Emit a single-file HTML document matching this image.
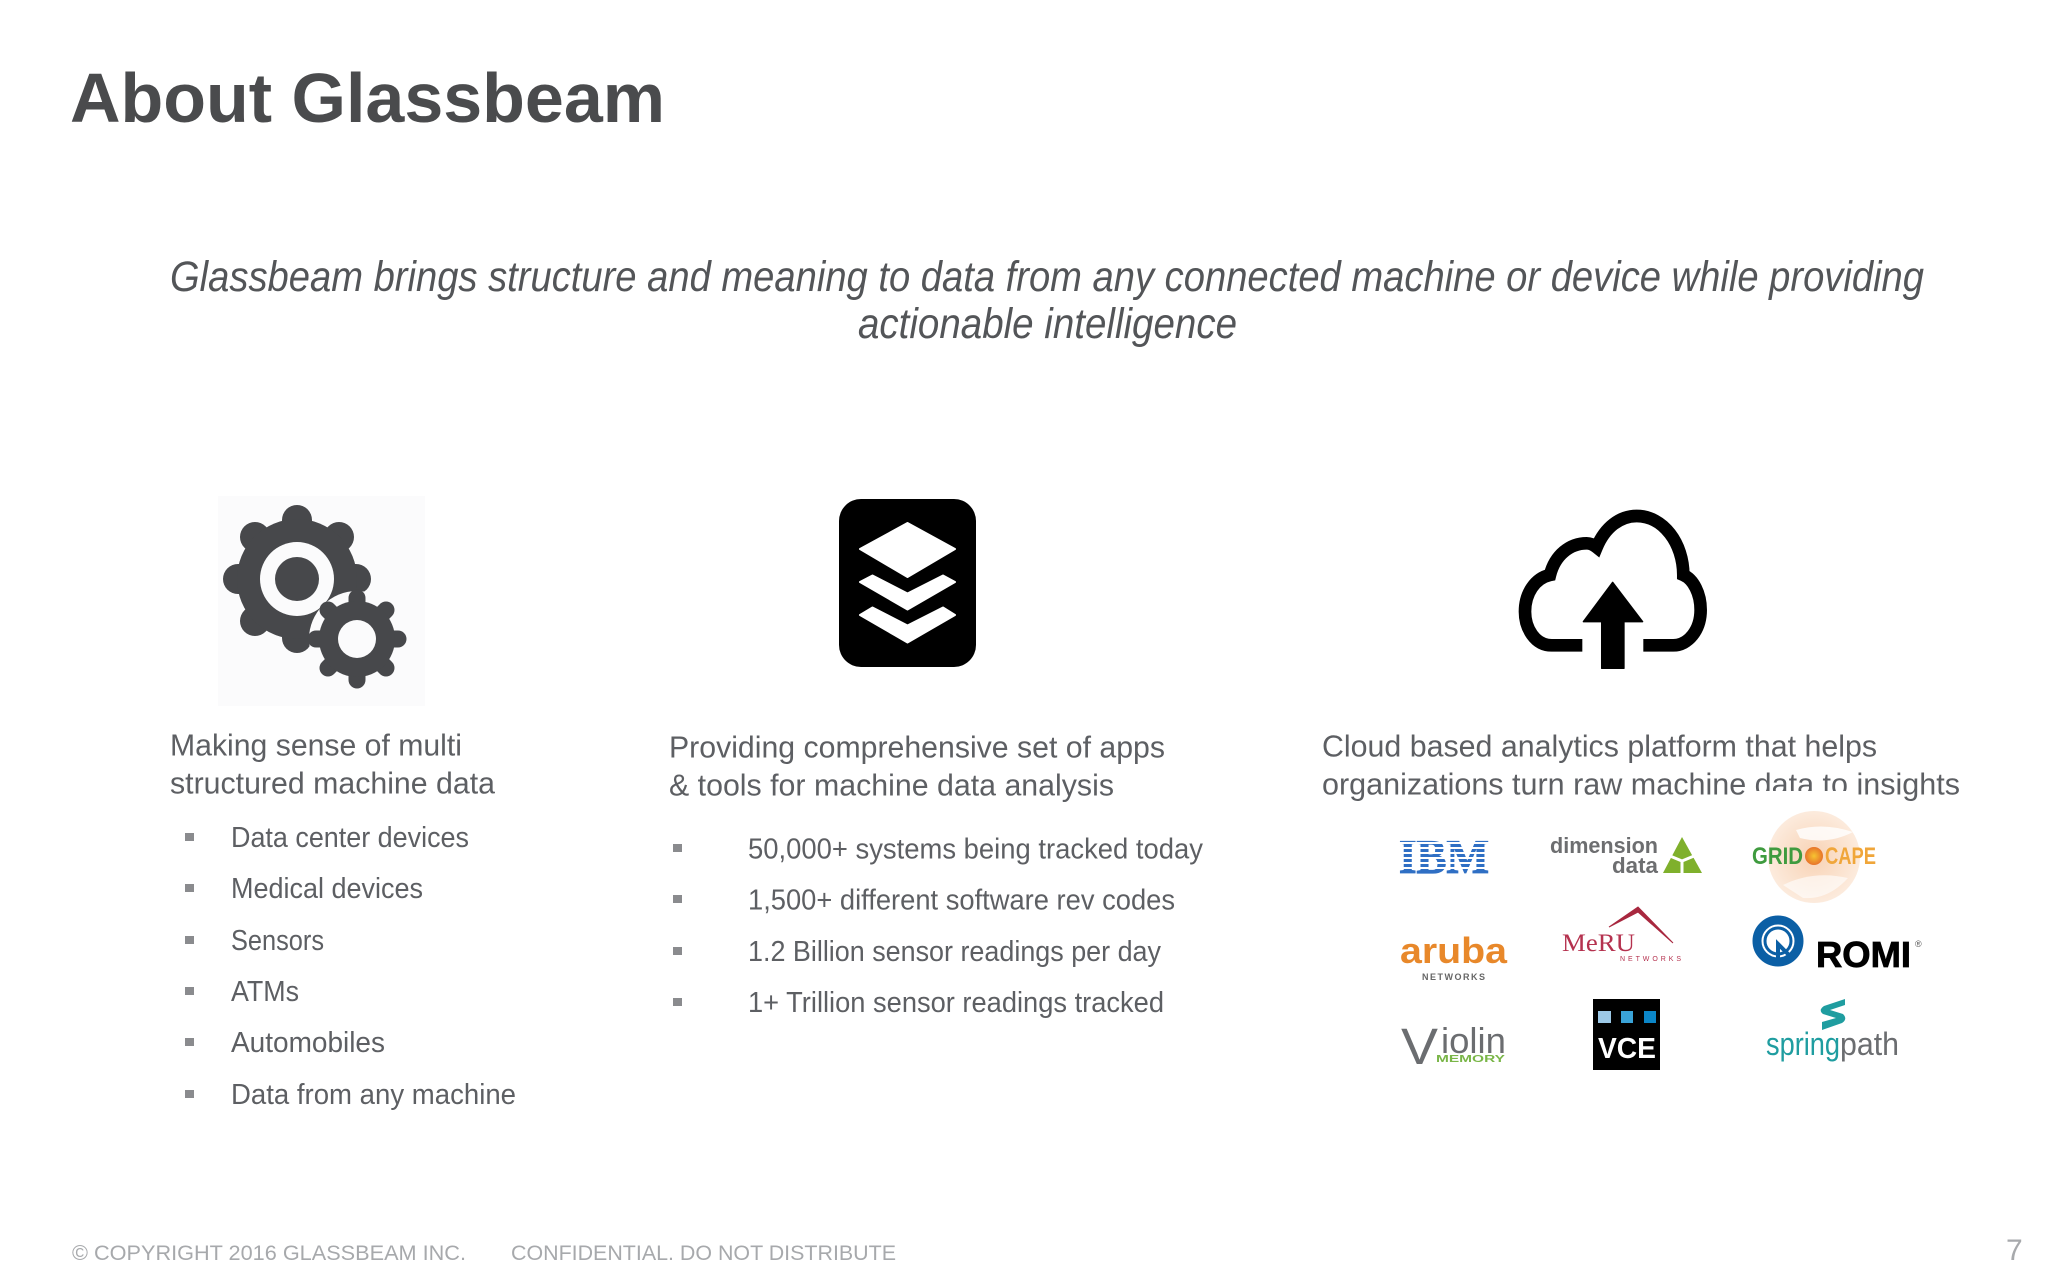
<!DOCTYPE html>
<html><head><meta charset="utf-8"><title>About Glassbeam</title>
<style>
html,body{margin:0;padding:0;background:#fff;width:2048px;height:1280px;overflow:hidden}
svg{display:block}
text{font-family:"Liberation Sans",sans-serif}
.h{font-size:31px;fill:#5d5f63}
.b{font-size:29px;fill:#5d5f63}
.s{font-size:43px;font-style:italic;fill:#535558}
.f{font-size:21px;fill:#a7a9ac}
</style></head><body>
<svg width="2048" height="1280" viewBox="0 0 2048 1280" xmlns="http://www.w3.org/2000/svg">
<defs>
<radialGradient id="gs" cx="50%" cy="50%" r="50%"><stop offset="0" stop-color="#f8d2b4"/><stop offset="1" stop-color="#fcebdd"/></radialGradient>
<radialGradient id="sun" cx="50%" cy="50%" r="50%"><stop offset="0" stop-color="#f6c431"/><stop offset="1" stop-color="#e8742a"/></radialGradient>
</defs>
<rect width="2048" height="1280" fill="#fff"/>
<text x="70" y="122" font-size="70" font-weight="bold" fill="#4a4b4d" textLength="595" lengthAdjust="spacingAndGlyphs">About Glassbeam</text>
<text class="s" x="170" y="291" textLength="1754" lengthAdjust="spacingAndGlyphs">Glassbeam brings structure and meaning to data from any connected machine or device while providing</text>
<text class="s" x="858" y="338" textLength="379" lengthAdjust="spacingAndGlyphs">actionable intelligence</text>

<!-- gears -->
<rect x="218" y="496" width="207" height="210" fill="#fbfbfc"/>
<g fill="none" stroke="#47484b" stroke-linecap="round">
 <g transform="translate(297,579)" stroke-width="30">
  <line x1="0" y1="0" x2="59" y2="0"/><line x1="0" y1="0" x2="-59" y2="0"/><line x1="0" y1="0" x2="0" y2="-59"/><line x1="0" y1="0" x2="0" y2="59"/>
  <line x1="0" y1="0" x2="42" y2="42"/><line x1="0" y1="0" x2="-42" y2="42"/><line x1="0" y1="0" x2="42" y2="-42"/><line x1="0" y1="0" x2="-42" y2="-42"/>
 </g>
</g>
<circle cx="297" cy="579" r="60" fill="#47484b"/>
<circle cx="297" cy="579" r="37" fill="#fbfbfc"/>
<circle cx="297" cy="579" r="22" fill="#47484b"/>
<circle cx="357" cy="639" r="48" fill="#fbfbfc"/>
<g fill="none" stroke="#47484b" stroke-linecap="round" stroke-width="17" transform="translate(357,639)">
 <line x1="0" y1="0" x2="41" y2="0"/><line x1="0" y1="0" x2="-41" y2="0"/><line x1="0" y1="0" x2="0" y2="-41"/><line x1="0" y1="0" x2="0" y2="41"/>
 <line x1="0" y1="0" x2="29" y2="29"/><line x1="0" y1="0" x2="-29" y2="29"/><line x1="0" y1="0" x2="29" y2="-29"/><line x1="0" y1="0" x2="-29" y2="-29"/>
</g>
<circle cx="357" cy="639" r="38" fill="#47484b"/>
<circle cx="357" cy="639" r="19" fill="#fbfbfc"/>

<text class="h" x="170" y="755.5" textLength="292" lengthAdjust="spacingAndGlyphs">Making sense of multi</text>
<text class="h" x="170" y="793.5" textLength="325" lengthAdjust="spacingAndGlyphs">structured machine data</text>
<g fill="#8a8b8e">
<rect x="185" y="833" width="9" height="8"/><rect x="185" y="884" width="9" height="8"/><rect x="185" y="936" width="9" height="8"/><rect x="185" y="987" width="9" height="8"/><rect x="185" y="1038" width="9" height="8"/><rect x="185" y="1090" width="9" height="8"/>
</g>
<text class="b" x="231" y="847" textLength="238" lengthAdjust="spacingAndGlyphs">Data center devices</text>
<text class="b" x="231" y="898" textLength="192" lengthAdjust="spacingAndGlyphs">Medical devices</text>
<text class="b" x="231" y="950" textLength="93" lengthAdjust="spacingAndGlyphs">Sensors</text>
<text class="b" x="231" y="1001" textLength="68" lengthAdjust="spacingAndGlyphs">ATMs</text>
<text class="b" x="231" y="1052" textLength="154" lengthAdjust="spacingAndGlyphs">Automobiles</text>
<text class="b" x="231" y="1104" textLength="285" lengthAdjust="spacingAndGlyphs">Data from any machine</text>

<!-- stack icon -->
<rect x="839" y="499" width="137" height="168" rx="22" fill="#000"/>
<g fill="#fff" stroke="#fff" stroke-width="2" stroke-linejoin="round" transform="translate(-1,0)">
<polygon points="908.5,523 956,549 908.5,577 861,549"/>
<polygon points="861,582 873.5,575.5 908.5,593.5 944,575.5 956,582 908.5,609.5"/>
<polygon points="861,615 873.5,607.5 908.5,625.5 944,607.5 956,615 908.5,642.5"/>
</g>

<!-- cloud icon -->
<g transform="translate(1480,490) scale(.3333)">
<path d="M307 466 H215 C165 466 135 415 135 365 C135 310 165 265 210 255 C225 195 270 160 320 160 Q335 160 350 172 C375 112 420 78 470 78 C550 78 610 160 610 255 C640 268 662 310 662 360 C662 420 625 466 580 466 H490" fill="none" stroke="#000" stroke-width="38"/>
<polygon points="398,277 488,395 432,395 432,535 365,535 365,395 310,395" fill="#000" stroke="#000" stroke-width="4" stroke-linejoin="round"/>
</g>

<text class="h" x="669" y="757.5" textLength="496" lengthAdjust="spacingAndGlyphs">Providing comprehensive set of apps</text>
<text class="h" x="669" y="795.5" textLength="445" lengthAdjust="spacingAndGlyphs">&amp; tools for machine data analysis</text>
<g fill="#8a8b8e">
<rect x="673" y="844" width="9" height="8"/><rect x="673" y="895" width="9" height="8"/><rect x="673" y="947" width="9" height="8"/><rect x="673" y="998" width="9" height="8"/>
</g>
<text class="b" x="748" y="858.5" textLength="455" lengthAdjust="spacingAndGlyphs">50,000+ systems being tracked today</text>
<text class="b" x="748" y="909.5" textLength="427" lengthAdjust="spacingAndGlyphs">1,500+ different software rev codes</text>
<text class="b" x="748" y="961" textLength="413" lengthAdjust="spacingAndGlyphs">1.2 Billion sensor readings per day</text>
<text class="b" x="748" y="1012" textLength="416" lengthAdjust="spacingAndGlyphs">1+ Trillion sensor readings tracked</text>

<text class="h" x="1322" y="756.5" textLength="555" lengthAdjust="spacingAndGlyphs">Cloud based analytics platform that helps</text>
<text class="h" x="1322" y="794.5" textLength="638" lengthAdjust="spacingAndGlyphs">organizations turn raw machine data to insights</text>
<rect x="1752" y="791" width="104" height="14" fill="#fff"/>

<!-- logos -->
<g transform="translate(-2,0)">
 <text x="1401" y="873" font-size="48" font-weight="bold" fill="#2f6fc4" stroke="#2f6fc4" stroke-width="1.2" textLength="90" lengthAdjust="spacingAndGlyphs" style="font-family:'Liberation Serif',serif">IBM</text>
 <g fill="#fff"><rect x="1398" y="842" width="96" height="2"/><rect x="1398" y="847" width="96" height="2"/><rect x="1398" y="852" width="96" height="2"/><rect x="1398" y="857" width="96" height="2"/><rect x="1398" y="862" width="96" height="2"/><rect x="1398" y="867" width="96" height="2"/></g>

 <text x="1660" y="853" font-size="22" font-weight="bold" fill="#6d6e70" text-anchor="end" textLength="108" lengthAdjust="spacingAndGlyphs">dimension</text>
 <text x="1660" y="873" font-size="22" font-weight="bold" fill="#6d6e70" text-anchor="end" textLength="46" lengthAdjust="spacingAndGlyphs">data</text>
 <polygon points="1684,837 1704,873 1665,873" fill="#7fb02c"/>
 <path d="M1672 856 L1684 861 L1696 856 M1684 861 V873" stroke="#fff" stroke-width="3" fill="none"/>

 <circle cx="1816" cy="857" r="46" fill="url(#gs)"/>
 <path d="M1798 830 Q1825 822 1855 832 Q1830 845 1802 838 Z" fill="#fff" opacity=".8"/>
 <path d="M1785 885 Q1815 870 1850 878 Q1830 900 1805 898 Z" fill="#fff" opacity=".6"/>
 <text x="1754" y="864" font-size="24" font-weight="bold" fill="#3f9b3f" textLength="51" lengthAdjust="spacingAndGlyphs">GRID</text>
 <circle cx="1816" cy="856" r="9" fill="url(#sun)"/>
 <text x="1827" y="864" font-size="24" font-weight="bold" fill="#f0a63a" textLength="51" lengthAdjust="spacingAndGlyphs">CAPE</text>

 <text x="1402" y="963" font-size="36" font-weight="bold" fill="#e8882a" textLength="107" lengthAdjust="spacingAndGlyphs">aruba</text>
 <text x="1424" y="980" font-size="9" font-weight="bold" fill="#666" textLength="63">NETWORKS</text>

 <text x="1564" y="951" font-size="25" fill="#b5324f" textLength="73" lengthAdjust="spacingAndGlyphs" style="font-family:'Liberation Serif',serif">MeRU</text>
 <path d="M1611 927 L1640 907 L1675 943 L1640 912 Z" fill="#a8283f" stroke="#a8283f" stroke-width="1"/>
 <text x="1622" y="961" font-size="7" fill="#b5324f" textLength="61">NETWORKS</text>

 <circle cx="1780" cy="941" r="21" fill="none" stroke="#0b5fa5" stroke-width="9"/>
 <circle cx="1780" cy="941" r="13" fill="none" stroke="#0b5fa5" stroke-width="3"/>
 <path d="M1780 961 L1780 944 L1792 956" fill="none" stroke="#0b5fa5" stroke-width="4"/>
 <text x="1818" y="967" font-size="36" font-weight="bold" fill="#000" stroke="#000" stroke-width=".8" textLength="95" lengthAdjust="spacingAndGlyphs">ROMI</text>
 <text x="1917" y="947" font-size="9" fill="#555">®</text>

 <text x="1403" y="1064" font-size="51" fill="#6b6d70" textLength="37" lengthAdjust="spacingAndGlyphs">V</text>
 <text x="1443" y="1053" font-size="36" fill="#6b6d70" textLength="65" lengthAdjust="spacingAndGlyphs">iolin</text>
 <text x="1438" y="1062" font-size="10" font-weight="bold" fill="#7ab648" textLength="69" lengthAdjust="spacingAndGlyphs">MEMORY</text>

 <rect x="1595" y="999" width="67" height="71" fill="#000"/>
 <rect x="1600" y="1011" width="13" height="12" fill="#9cc8e6"/><rect x="1623" y="1011" width="12" height="12" fill="#3aa3d8"/><rect x="1646" y="1011" width="12" height="12" fill="#0b86c8"/>
 <text x="1600" y="1058" font-size="29" font-weight="bold" fill="#fff" textLength="58" lengthAdjust="spacingAndGlyphs">VCE</text>

 <path d="M1847 999 L1826 1006 Q1820 1010 1825 1014 L1838 1018 L1824 1022 L1824 1030 L1844 1023 Q1850 1019 1845 1014 L1832 1010 L1847 1005 Z" fill="#1f9da0"/>
 <text x="1768" y="1055" font-size="32" fill="#1f9da0" textLength="74" lengthAdjust="spacingAndGlyphs">spring</text>
 <text x="1842" y="1055" font-size="32" fill="#6b6d70" textLength="59" lengthAdjust="spacingAndGlyphs">path</text>
</g>

<text class="f" x="72" y="1260" textLength="394" lengthAdjust="spacingAndGlyphs">© COPYRIGHT 2016  GLASSBEAM INC.</text>
<text class="f" x="511" y="1260" textLength="385" lengthAdjust="spacingAndGlyphs">CONFIDENTIAL. DO NOT DISTRIBUTE</text>
<text x="2006" y="1260" font-size="30" fill="#a7a9ac">7</text>
</svg>
</body></html>
